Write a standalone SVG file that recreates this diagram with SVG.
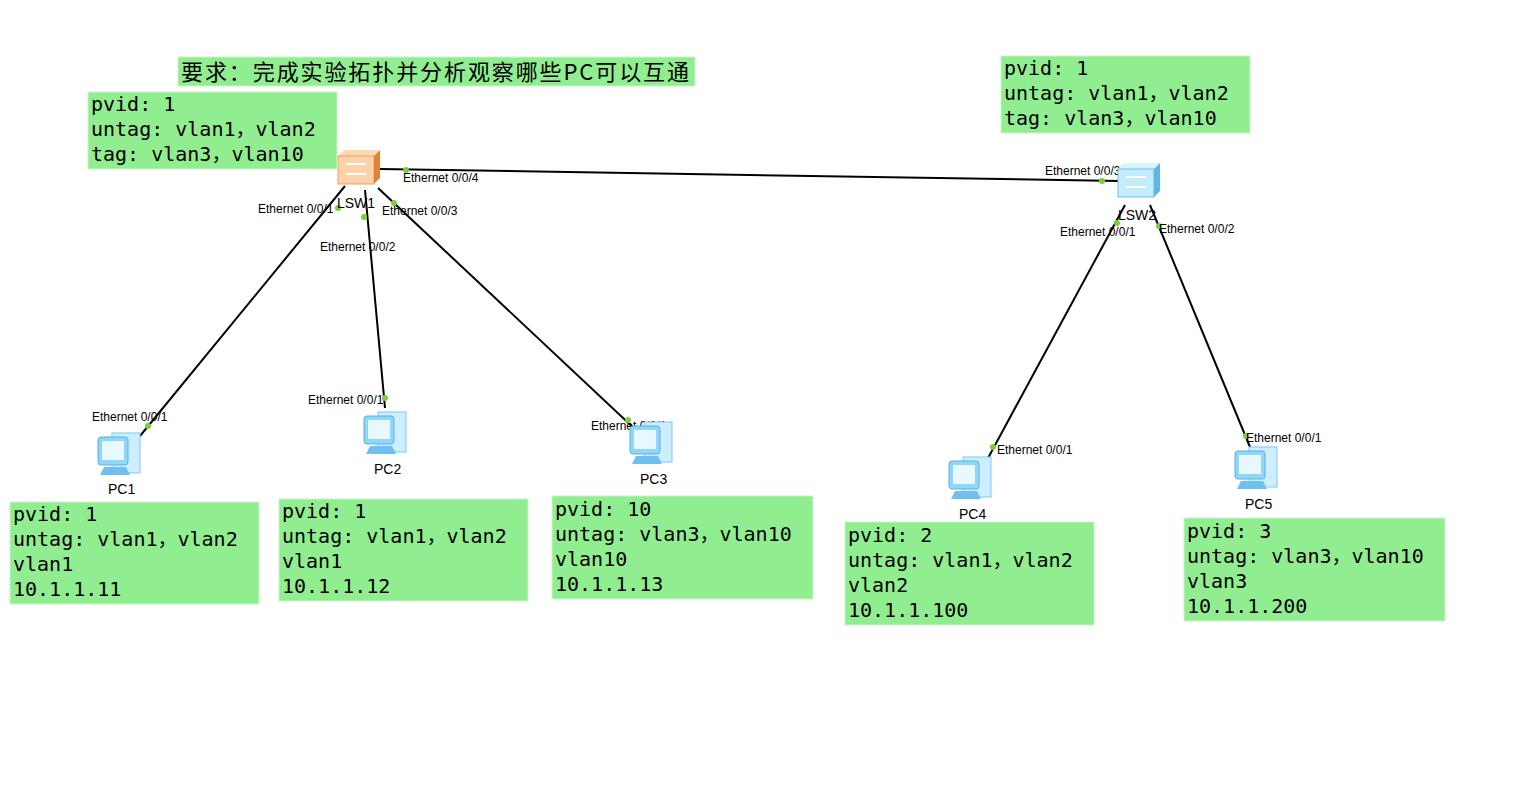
<svg xmlns="http://www.w3.org/2000/svg" width="1537" height="785" viewBox="0 0 1537 785">
<defs>
<style>
.box{fill:#90ee90;stroke:#c8f5c8;stroke-width:1}
.mono{font-family:"DejaVu Sans Mono","Liberation Mono","Noto Sans CJK SC",monospace;font-size:20px;fill:#000}
.cm{font-family:"Noto Sans CJK SC",sans-serif}
.if{font-family:"Liberation Sans",Arial,sans-serif;font-size:12px;fill:#000}
.nm{font-family:"Liberation Sans",Arial,sans-serif;font-size:14px;fill:#000}
.ln{stroke:#000;stroke-width:2;fill:none}
.dot{fill:#7ccf3a}
</style>
<g id="pcicon">
<rect x="-12" y="-22" width="28" height="40" fill="#cdeeff" stroke="#7fc8ee"/>
<rect x="-26" y="-18" width="30" height="28" rx="3" fill="#8fd6f7" stroke="#5ab0e6"/>
<rect x="-22" y="-14" width="22" height="19" fill="#e8f8ff"/>
<path d="M-20 12 L2 12 L6 20 L-24 20 Z" fill="#6fbfef"/>
</g>
<g id="swicon">
<path d="M-20 -14 L16 -14 L22 -20 L-14 -20 Z" fill="#ffd9b0"/>
<rect x="-20" y="-14" width="36" height="28" fill="#fcd3a8" stroke="#e8a060"/>
<path d="M16 -14 L22 -20 L22 8 L16 14 Z" fill="#e0823a"/>
<path d="M-12 -6 L8 -6 M-12 4 L8 4" stroke="#fff" stroke-width="2"/>
</g>
<g id="swicon2">
<path d="M-20 -14 L16 -14 L22 -20 L-14 -20 Z" fill="#d8f4ff"/>
<rect x="-20" y="-14" width="36" height="28" fill="#c4ecff" stroke="#6cc0ea"/>
<path d="M16 -14 L22 -20 L22 8 L16 14 Z" fill="#5fb6e6"/>
<path d="M-12 -6 L8 -6 M-12 4 L8 4" stroke="#fff" stroke-width="2"/>
</g>
</defs>
<rect width="1537" height="785" fill="#fff"/>
<g id="connectors">
<line class="ln" x1="380" y1="169" x2="1120" y2="181"/>
<line class="ln" x1="345" y1="186" x2="140" y2="436"/>
<line class="ln" x1="365" y1="190" x2="385" y2="408"/>
<line class="ln" x1="378" y1="188" x2="638" y2="432"/>
<line class="ln" x1="1125" y1="205" x2="987" y2="460"/>
<line class="ln" x1="1150" y1="205" x2="1250" y2="447"/>
<circle class="dot" cx="406" cy="170" r="3"/><text class="if" x="403" y="182">Ethernet 0/0/4</text>
<circle class="dot" cx="1102" cy="181" r="3"/><text class="if" x="1045" y="175">Ethernet 0/0/3</text>
<circle class="dot" cx="338" cy="208" r="3"/><text class="if" x="258" y="213">Ethernet 0/0/1</text>
<circle class="dot" cx="364" cy="217" r="3"/><text class="if" x="320" y="251">Ethernet 0/0/2</text>
<circle class="dot" cx="394" cy="203" r="3"/><text class="if" x="382" y="215">Ethernet 0/0/3</text>
<circle class="dot" cx="1117" cy="223" r="3"/><text class="if" x="1060" y="236">Ethernet 0/0/1</text>
<circle class="dot" cx="1159" cy="226" r="3"/><text class="if" x="1159" y="233">Ethernet 0/0/2</text>
<circle class="dot" cx="148" cy="426" r="3"/><text class="if" x="92" y="421">Ethernet 0/0/1</text>
<circle class="dot" cx="385" cy="398" r="3"/><text class="if" x="308" y="404">Ethernet 0/0/1</text>
<circle class="dot" cx="628" cy="420" r="3"/><text class="if" x="591" y="430">Ethernet 0/0/1</text>
<circle class="dot" cx="993" cy="447" r="3"/><text class="if" x="997" y="454">Ethernet 0/0/1</text>
<circle class="dot" cx="1246" cy="436" r="3"/><text class="if" x="1246" y="442">Ethernet 0/0/1</text>
</g>
<g id="title"><rect class="box" x="178" y="57" width="517" height="29"/><text x="181" y="80" font-family="Noto Sans CJK SC,sans-serif" font-size="22" textLength="508">要求：完成实验拓扑并分析观察哪些PC可以互通</text></g>
<g id="LSW1"><use href="#swicon" x="358" y="170"/><text class="nm" x="337" y="208">LSW1</text></g>
<g id="LSW2"><use href="#swicon2" x="1138" y="183"/><text class="nm" x="1118" y="220">LSW2</text></g>
<g id="PC1"><use href="#pcicon" x="124" y="455"/><text class="nm" x="108" y="494">PC1</text></g>
<g id="PC2"><use href="#pcicon" x="390" y="434"/><text class="nm" x="374" y="474">PC2</text></g>
<g id="PC3"><use href="#pcicon" x="656" y="444"/><text class="nm" x="640" y="484">PC3</text></g>
<g id="PC4"><use href="#pcicon" x="975" y="479"/><text class="nm" x="959" y="519">PC4</text></g>
<g id="PC5"><use href="#pcicon" x="1261" y="469"/><text class="nm" x="1245" y="509">PC5</text></g>
<g id="note-LSW1"><rect class="box" x="88" y="92" width="249" height="77"/><text class="mono"><tspan x="91" y="111">pvid: 1</tspan><tspan x="91" y="136">untag: vlan1<tspan class="cm">，</tspan>vlan2</tspan><tspan x="91" y="161">tag: vlan3<tspan class="cm">，</tspan>vlan10</tspan></text></g>
<g id="note-LSW2"><rect class="box" x="1001" y="56" width="249" height="77"/><text class="mono"><tspan x="1004" y="75">pvid: 1</tspan><tspan x="1004" y="100">untag: vlan1<tspan class="cm">，</tspan>vlan2</tspan><tspan x="1004" y="125">tag: vlan3<tspan class="cm">，</tspan>vlan10</tspan></text></g>
<g id="note-PC1"><rect class="box" x="10" y="502" width="249" height="102"/><text class="mono"><tspan x="13" y="521">pvid: 1</tspan><tspan x="13" y="546">untag: vlan1<tspan class="cm">，</tspan>vlan2</tspan><tspan x="13" y="571">vlan1</tspan><tspan x="13" y="596">10.1.1.11</tspan></text></g>
<g id="note-PC2"><rect class="box" x="279" y="499" width="249" height="102"/><text class="mono"><tspan x="282" y="518">pvid: 1</tspan><tspan x="282" y="543">untag: vlan1<tspan class="cm">，</tspan>vlan2</tspan><tspan x="282" y="568">vlan1</tspan><tspan x="282" y="593">10.1.1.12</tspan></text></g>
<g id="note-PC3"><rect class="box" x="552" y="496" width="261" height="103"/><text class="mono"><tspan x="555" y="516">pvid: 10</tspan><tspan x="555" y="541">untag: vlan3<tspan class="cm">，</tspan>vlan10</tspan><tspan x="555" y="566">vlan10</tspan><tspan x="555" y="591">10.1.1.13</tspan></text></g>
<g id="note-PC4"><rect class="box" x="845" y="522" width="249" height="103"/><text class="mono"><tspan x="848" y="542">pvid: 2</tspan><tspan x="848" y="567">untag: vlan1<tspan class="cm">，</tspan>vlan2</tspan><tspan x="848" y="592">vlan2</tspan><tspan x="848" y="617">10.1.1.100</tspan></text></g>
<g id="note-PC5"><rect class="box" x="1184" y="518" width="261" height="103"/><text class="mono"><tspan x="1187" y="538">pvid: 3</tspan><tspan x="1187" y="563">untag: vlan3<tspan class="cm">，</tspan>vlan10</tspan><tspan x="1187" y="588">vlan3</tspan><tspan x="1187" y="613">10.1.1.200</tspan></text></g>
</svg>
